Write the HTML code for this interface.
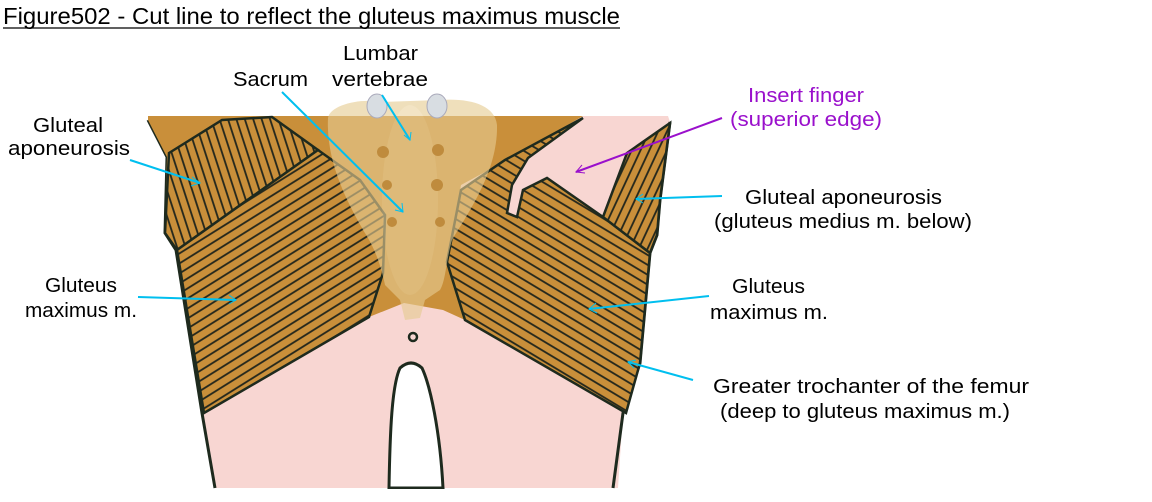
<!DOCTYPE html>
<html><head><meta charset="utf-8"><style>
html,body{margin:0;padding:0;background:#fff;}
svg{display:block;}
text{font-family:"Liberation Sans",Arial,sans-serif;}
</style></head><body>
<svg width="1152" height="502" viewBox="0 0 1152 502" xmlns="http://www.w3.org/2000/svg">
<defs>
<pattern id="pL" width="12" height="8.5" patternUnits="userSpaceOnUse" patternTransform="rotate(-32)">
<rect width="12" height="8.5" fill="#c98f3a"/><line x1="0" y1="4" x2="12" y2="4" stroke="#22261c" stroke-width="1.8"/></pattern>
<pattern id="pR" width="12" height="8.5" patternUnits="userSpaceOnUse" patternTransform="rotate(31)">
<rect width="12" height="8.5" fill="#c98f3a"/><line x1="0" y1="4" x2="12" y2="4" stroke="#22261c" stroke-width="1.8"/></pattern>
<pattern id="pA" width="12" height="8" patternUnits="userSpaceOnUse" patternTransform="rotate(72)">
<rect width="12" height="8" fill="#c98f3a"/><line x1="0" y1="4" x2="12" y2="4" stroke="#22261c" stroke-width="1.8"/></pattern>
<pattern id="pB" width="12" height="8" patternUnits="userSpaceOnUse" patternTransform="rotate(-65)">
<rect width="12" height="8" fill="#c98f3a"/><line x1="0" y1="4" x2="12" y2="4" stroke="#22261c" stroke-width="1.8"/></pattern>
</defs>

<!-- title -->
<text x="3" y="24" font-size="23" textLength="617" lengthAdjust="spacingAndGlyphs" fill="#000">Figure502 - Cut line to reflect the gluteus maximus muscle</text>
<line x1="3" y1="28" x2="620" y2="28" stroke="#000" stroke-width="1.2"/>

<!-- pink body -->
<polygon points="148,116 668,116 670,122 660,200 657,235 650,253 640,363 623,413 618,488 215,488 202,413 176,250 165,233 167,157 148,120" fill="#f8d6d2"/>
<polyline points="148,120 167,157 165,233 176,250 202,413 215,488" fill="none" stroke="#1e2a1e" stroke-width="3"/>
<polyline points="670,122 660,200 657,235 650,253 640,363 623,413 613,488" fill="none" stroke="#1e2a1e" stroke-width="3"/>

<!-- brown top band -->
<polygon points="148,116 583,116 520,153 461,185 447,262 465,320 443,310 404,303 369,317 177,250 165,233 167,157 148,120" fill="#c98f3a"/>

<polygon points="169,153 222,120 272,117 318,150 177,250 165,233" fill="url(#pA)" stroke="#1e2a1e" stroke-width="2.5"/>
<polygon points="177,250 318,150 360,180 385,215 383,273 369,317 204,413" fill="url(#pL)" stroke="#1e2a1e" stroke-width="2.5"/>
<polygon points="447,262 461,190 505,160 583,118 528,158 512,185 507,213 517,217 523,190 547,178 603,217 650,253 640,363 626,413 465,320" fill="url(#pR)" stroke="#1e2a1e" stroke-width="2.5"/>
<polygon points="603,217 627,153 670,123 660,200 657,235 650,253" fill="url(#pB)" stroke="#1e2a1e" stroke-width="2.5"/>

<!-- sacrum bone -->
<g opacity="0.62">
<path d="M328,118 C330,105 360,98 380,102 L440,100 C470,98 495,105 497,125 C498,170 470,210 452,240 C446,260 446,280 440,290 L425,300 L420,318 L405,320 L400,300 L385,285 C380,260 372,245 368,238 C345,200 326,160 328,118 Z" fill="#e6cc92"/>
<ellipse cx="410" cy="200" rx="28" ry="95" fill="#eed9a8" opacity="0.7"/>
<circle cx="383" cy="152" r="6" fill="#b98a40"/><circle cx="438" cy="150" r="6" fill="#b98a40"/>
<circle cx="387" cy="185" r="5" fill="#b98a40"/><circle cx="437" cy="185" r="6" fill="#b98a40"/>
<circle cx="392" cy="222" r="5" fill="#b98a40"/><circle cx="440" cy="222" r="5" fill="#b98a40"/>
</g>
<ellipse cx="377" cy="106" rx="10" ry="12" fill="#d8dde2" stroke="#aab" stroke-width="1"/>
<ellipse cx="437" cy="106" rx="10" ry="12" fill="#d8dde2" stroke="#aab" stroke-width="1"/>

<ellipse cx="413" cy="337" rx="4" ry="4" fill="none" stroke="#1e2a1e" stroke-width="2.5"/>
<path d="M389,488 C390,430 392,385 400,368 Q411,358 422,368 C430,385 440,430 443,488 Z" fill="#fff" stroke="#1e2a1e" stroke-width="3"/>
<rect x="380" y="489" width="70" height="13" fill="#fff"/>

<!-- connectors -->
<g stroke="#00bfef" stroke-width="2" fill="none">
<line x1="130" y1="160" x2="200" y2="183"/><polyline points="192,177 200,183 191,186" stroke-width="1"/>
<line x1="138" y1="297" x2="236" y2="300"/><polyline points="229,295 236,300 229,304" stroke-width="1"/>
<line x1="282" y1="92" x2="403" y2="212"/><polyline points="402,203 403,212 395,210" stroke-width="1"/>
<line x1="382" y1="95" x2="410" y2="140"/><polyline points="411,132 410,140 404,135" stroke-width="1"/>
<line x1="722" y1="196" x2="636" y2="199"/><polyline points="643,194 636,199 643,203" stroke-width="1"/>
<line x1="709" y1="296" x2="589" y2="309"/><polyline points="596,303 589,309 597,313" stroke-width="1"/>
<line x1="693" y1="380" x2="628" y2="362"/><polyline points="636,360 628,362 634,368" stroke-width="1"/>
</g>
<line x1="722" y1="118" x2="576" y2="172" stroke="#9a10cc" stroke-width="2"/>
<polyline points="582,165 576,172 585,173" fill="none" stroke="#9a10cc" stroke-width="1"/>

<!-- labels -->
<g font-size="20" fill="#000">
<text x="33" y="132" textLength="70" lengthAdjust="spacingAndGlyphs">Gluteal</text>
<text x="8" y="155" textLength="122" lengthAdjust="spacingAndGlyphs">aponeurosis</text>
<text x="45" y="292" textLength="72" lengthAdjust="spacingAndGlyphs">Gluteus</text>
<text x="25" y="317" textLength="112" lengthAdjust="spacingAndGlyphs">maximus m.</text>
<text x="233" y="86" textLength="75" lengthAdjust="spacingAndGlyphs">Sacrum</text>
<text x="343" y="60" textLength="75" lengthAdjust="spacingAndGlyphs">Lumbar</text>
<text x="332" y="86" textLength="96" lengthAdjust="spacingAndGlyphs">vertebrae</text>
<text x="745" y="204" textLength="197" lengthAdjust="spacingAndGlyphs">Gluteal aponeurosis</text>
<text x="714" y="228" textLength="258" lengthAdjust="spacingAndGlyphs">(gluteus medius m. below)</text>
<text x="732" y="293" textLength="73" lengthAdjust="spacingAndGlyphs">Gluteus</text>
<text x="710" y="319" textLength="118" lengthAdjust="spacingAndGlyphs">maximus m.</text>
<text x="713" y="393" textLength="316" lengthAdjust="spacingAndGlyphs">Greater trochanter of the femur</text>
<text x="720" y="418" textLength="290" lengthAdjust="spacingAndGlyphs">(deep to gluteus maximus m.)</text>
<text x="748" y="102" textLength="116" lengthAdjust="spacingAndGlyphs" fill="#9a10cc">Insert finger</text>
<text x="730" y="126" textLength="152" lengthAdjust="spacingAndGlyphs" fill="#9a10cc">(superior edge)</text>
</g>
</svg>
</body></html>
